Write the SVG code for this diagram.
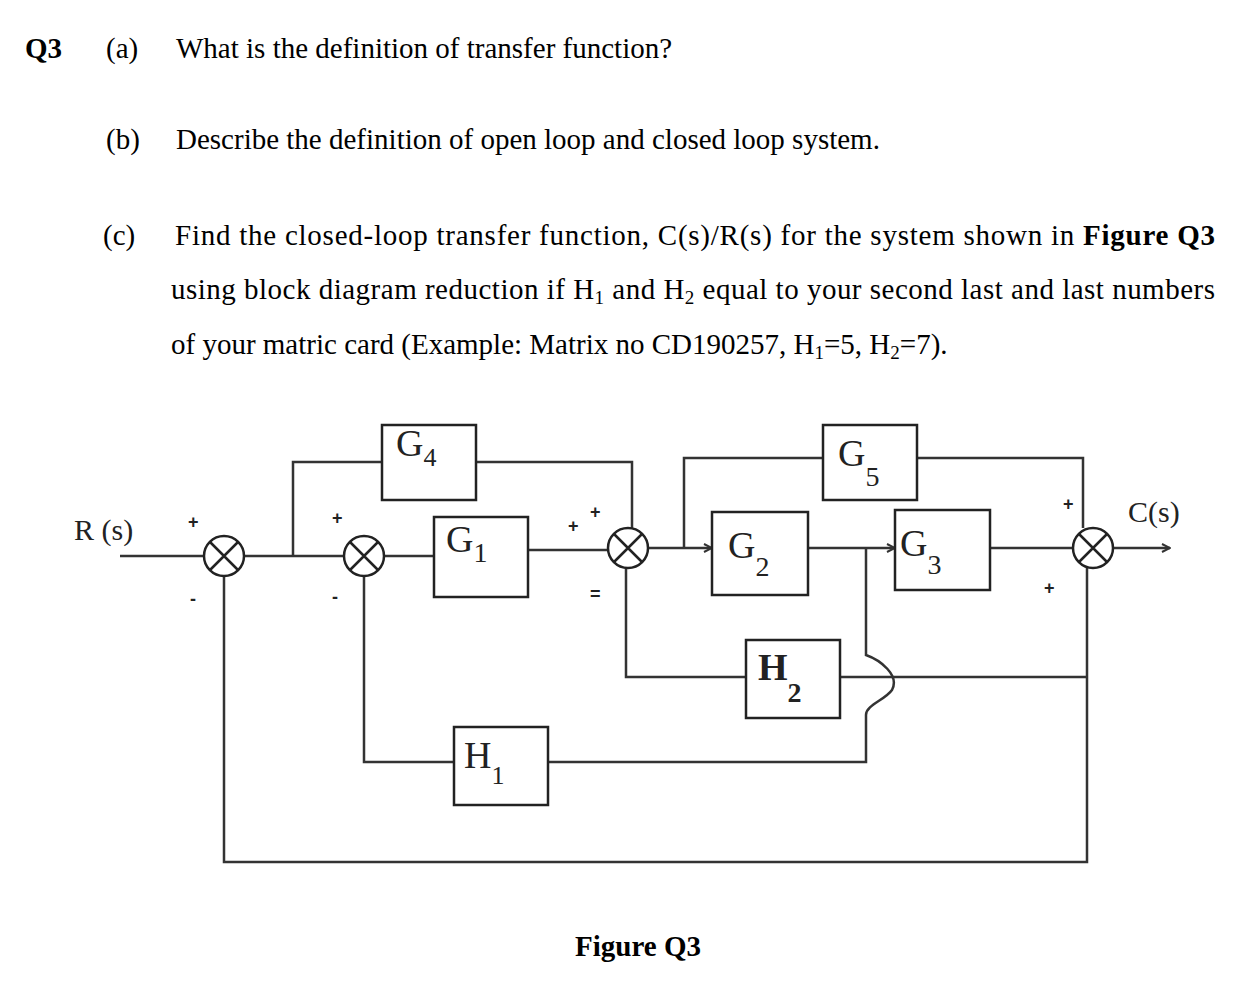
<svg xmlns="http://www.w3.org/2000/svg" width="1251" height="999" viewBox="0 0 1251 999">
<style>
.t{font-family:"Liberation Serif",serif;font-size:29px;fill:#000}
.b{font-weight:bold}
.sub{font-size:19px}
.l{font-family:"Liberation Serif",serif;font-size:38px;fill:#222}
.s{font-family:"Liberation Serif",serif;font-size:30px;fill:#222}
.pm{font-family:"Liberation Sans",sans-serif;font-size:18px;font-weight:bold;fill:#222}
rect{fill:#fff;stroke:#222;stroke-width:2.5}
.w{fill:none;stroke:#333;stroke-width:2.5}
circle{fill:#fff;stroke:#222;stroke-width:2.5}
</style>
<defs>
<marker id="a" markerWidth="10" markerHeight="10" refX="9" refY="5" orient="auto" markerUnits="userSpaceOnUse"><path d="M1,1 L9,5 L1,9" fill="none" stroke="#333" stroke-width="2"/></marker>
<g id="sj"><circle r="20"/><path d="M-14,-14 L14,14 M14,-14 L-14,14" stroke="#222" stroke-width="2.5"/></g>
</defs>
<rect x="0" y="0" width="1251" height="999" style="fill:#fff;stroke:none"/>
<g id="text">
<text class="t b" x="25" y="58">Q3</text>
<text class="t" x="106" y="58">(a)</text>
<text class="t" x="176" y="58">What is the definition of transfer function?</text>
<text class="t" x="106" y="149">(b)</text>
<text class="t" x="176" y="149">Describe the definition of open loop and closed loop system.</text>
<text class="t" x="103" y="245">(c)</text>
<text class="t" x="175" y="245" textLength="1040" lengthAdjust="spacing">Find  the  closed-loop  transfer  function, C(s)/R(s) for the system shown in <tspan class="b">Figure Q3</tspan></text>
<text class="t" x="171" y="299" textLength="1044" lengthAdjust="spacing">using  block diagram reduction if H<tspan class="sub" dy="5">1</tspan><tspan dy="-5"> and H</tspan><tspan class="sub" dy="5">2</tspan><tspan dy="-5"> equal to your second last and last numbers</tspan></text>
<text class="t" x="171" y="354">of your matric card (Example: Matrix no CD190257, H<tspan class="sub" dy="5">1</tspan><tspan dy="-5">=5, H</tspan><tspan class="sub" dy="5">2</tspan><tspan dy="-5">=7).</tspan></text>
<text class="t b" x="638" y="956" text-anchor="middle">Figure Q3</text>
</g>
<g id="connectors">
<path class="w" d="M120,556 H204"/>
<path class="w" d="M244,556 H344"/>
<path class="w" d="M384,556 H434"/>
<path class="w" d="M528,550 H608"/>
<path class="w" d="M648,548 H712" marker-end="url(#a)"/>
<path class="w" d="M808,548 H895" marker-end="url(#a)"/>
<path class="w" d="M990,548 H1073"/>
<path class="w" d="M1113,548 H1170" marker-end="url(#a)"/>
<path class="w" d="M293,556 V462 H382"/>
<path class="w" d="M476,462 H632 V528"/>
<path class="w" d="M684,548 V458 H823"/>
<path class="w" d="M917,458 H1083 V528"/>
<path class="w" d="M1087,568 V862 H224 V576"/>
<path class="w" d="M1087,677 H840"/>
<path class="w" d="M746,677 H626 V568"/>
<path class="w" d="M866,548 V655 C880,660 900,675 892,690 C885,700 866,705 866,715 V762 H548"/>
<path class="w" d="M454,762 H364 V576"/>
</g>
<g id="S1" transform="translate(224,556)"><use href="#sj"/></g>
<g id="S2" transform="translate(364,556)"><use href="#sj"/></g>
<g id="S3" transform="translate(628,548)"><use href="#sj"/></g>
<g id="S4" transform="translate(1093,548)"><use href="#sj"/></g>
<g id="signs">
<text class="pm" x="188" y="528">+</text><text class="pm" x="190" y="605">-</text>
<text class="pm" x="332" y="524">+</text><text class="pm" x="332" y="603">-</text>
<text class="pm" x="568" y="532">+</text><text class="pm" x="590" y="518">+</text><text class="pm" x="590" y="600">=</text>
<text class="pm" x="1063" y="510">+</text><text class="pm" x="1044" y="594">+</text>
</g>
<g id="labels">
<text class="s" x="74" y="540">R (s)</text>
<text class="s" x="1128" y="522">C(s)</text>
</g>
<g id="G4"><rect x="382" y="425" width="94" height="75"/><text class="l" x="396" y="456">G<tspan font-size="26" dy="10">4</tspan></text></g>
<g id="G1"><rect x="434" y="517" width="94" height="80"/><text class="l" x="446" y="552">G<tspan font-size="28" dy="10">1</tspan></text></g>
<g id="G5"><rect x="823" y="425" width="94" height="75"/><text class="l" x="838" y="466">G<tspan font-size="28" dy="20">5</tspan></text></g>
<g id="G2"><rect x="712" y="512" width="96" height="83"/><text class="l" x="728" y="558">G<tspan font-size="28" dy="18">2</tspan></text></g>
<g id="G3"><rect x="895" y="510" width="95" height="80"/><text class="l" x="900" y="556">G<tspan font-size="28" dy="18">3</tspan></text></g>
<g id="H2"><rect x="746" y="640" width="94" height="78"/><text class="l b" x="758" y="680">H<tspan font-size="28" dy="22">2</tspan></text></g>
<g id="H1"><rect x="454" y="727" width="94" height="78"/><text class="l" x="464" y="768">H<tspan font-size="26" dy="16">1</tspan></text></g>
</svg>
